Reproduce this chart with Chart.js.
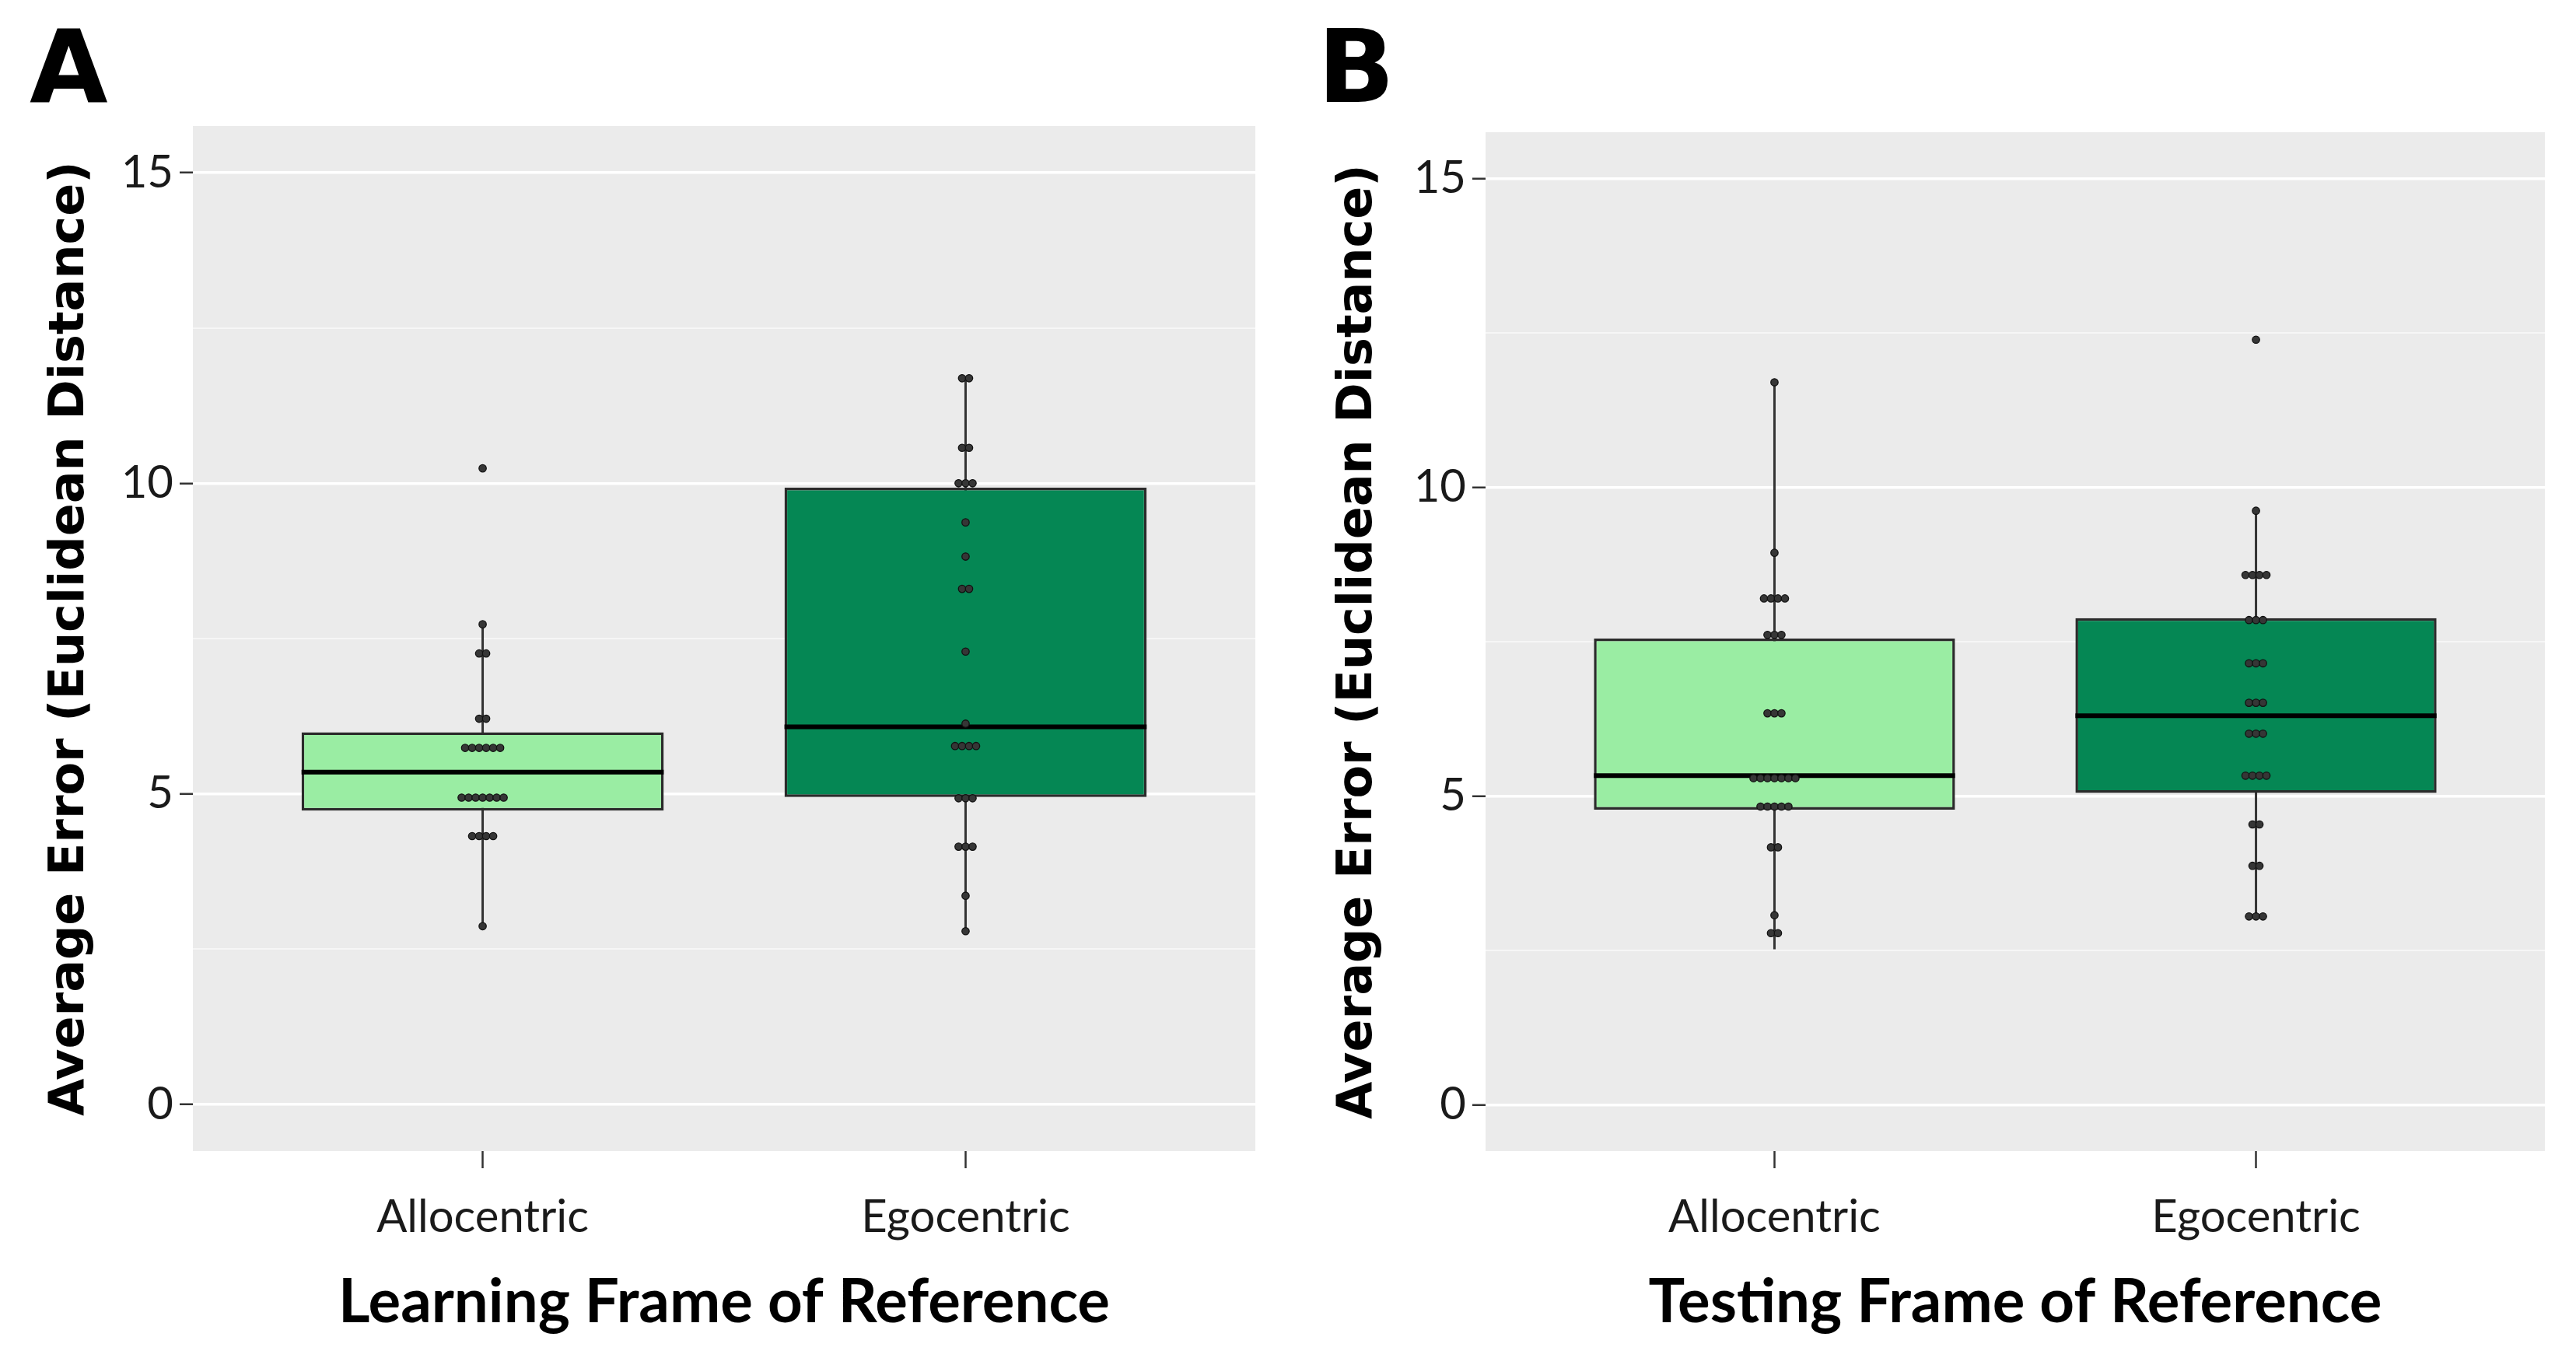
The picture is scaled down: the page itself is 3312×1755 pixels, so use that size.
<!DOCTYPE html>
<html>
<head>
<meta charset="utf-8">
<script src="https://cdn.jsdelivr.net/npm/chart.js@4.4.1/dist/chart.umd.min.js"></script>
<style>
  html, body { margin: 0; padding: 0; background: #fff; }
  #wrap { display: flex; width: 3312px; height: 1755px; }
  canvas { display: block; }
</style>
</head>
<body>
<div id="wrap">
  <canvas id="panelA" width="1656" height="1755"></canvas>
  <canvas id="panelB" width="1656" height="1755"></canvas>
</div>
<script>
// ---- data ----
const categories = ['Allocentric', 'Egocentric'];
const yMajorTicks = [0, 5, 10, 15];
const yMinorTicks = [2.5, 7.5, 12.5];

// panel A : learning frame of reference
const learnQ1 = [4.73, 4.95];
const learnMedian = [5.35, 6.08];
const learnQ3 = [5.99, 9.93];
const learnLow = [2.87, 2.79];
const learnHigh = [7.73, 11.69];
const learnAllo = [10.24, 7.73, 7.26, 7.26, 6.21, 6.21,
  5.74, 5.74, 5.74, 5.74, 5.74, 5.74,
  4.94, 4.94, 4.94, 4.94, 4.94, 4.94, 4.94,
  4.32, 4.32, 4.32, 4.32, 2.87];
const learnEgo = [11.69, 11.69, 10.57, 10.57, 10.0, 10.0, 10.0, 9.37, 8.82,
  8.30, 8.30, 7.29, 6.13, 5.77, 5.77, 5.77, 5.77,
  4.93, 4.93, 4.93, 4.15, 4.15, 4.15, 3.36, 2.79];

// panel B : testing frame of reference
const testQ1 = [4.78, 5.05];
const testMedian = [5.33, 6.30];
const testQ3 = [7.55, 7.88];
const testLow = [2.52, 2.99];
const testHigh = [11.70, 9.62];
const testAllo = [11.70, 8.94, 8.20, 8.20, 8.20, 8.20, 7.61, 7.61, 7.61,
  6.34, 6.34, 6.34, 5.29, 5.29, 5.29, 5.29, 5.29, 5.29, 5.29,
  4.83, 4.83, 4.83, 4.83, 4.83, 4.17, 4.17, 3.07, 2.78, 2.78];
const testEgo = [12.39, 9.62, 8.58, 8.58, 8.58, 8.58, 7.85, 7.85, 7.85,
  7.15, 7.15, 7.15, 6.51, 6.51, 6.51, 6.01, 6.01, 6.01,
  5.33, 5.33, 5.33, 5.33, 4.54, 4.54, 3.87, 3.87, 3.05, 3.05, 3.05];

// ---- styling ----
const FILLS = ['#9AEDA3', '#058754'];
const BOX_WIDTH = 0.75;
const DOT_STEP = 0.0145;   // horizontal spacing of stacked dots, in x units

const panelBg = {
  id: 'panelBg',
  beforeDraw(chart) {
    const { ctx, chartArea: a } = chart;
    ctx.save();
    ctx.fillStyle = '#EBEBEB';
    ctx.fillRect(a.left, a.top, a.right - a.left, a.bottom - a.top);
    ctx.restore();
  }
};

// spread equal values side by side, centred on the category
function stackDots(values, center) {
  const counts = {};
  values.forEach(v => { counts[v] = (counts[v] || 0) + 1; });
  const seen = {};
  return values.map(v => {
    const i = seen[v] = (seen[v] === undefined ? 0 : seen[v] + 1);
    return { x: center + (i - (counts[v] - 1) / 2) * DOT_STEP, y: v };
  });
}

function makePanel(id, letter, xTitle, q1, med, q3, lo, hi, dots, lay) {
  const datasets = [];
  categories.forEach((c, i) => {
    const cx = i + 1;
    datasets.push({
      type: 'line', order: 4,
      data: [{ x: cx, y: lo[i] }, { x: cx, y: hi[i] }],
      borderColor: '#333333', borderWidth: 3, pointRadius: 0
    });
    datasets.push({
      type: 'line', order: 2,
      data: [{ x: cx - BOX_WIDTH / 2, y: med[i] }, { x: cx + BOX_WIDTH / 2, y: med[i] }],
      borderColor: '#000000', borderWidth: 6, pointRadius: 0
    });
    datasets.push({
      type: 'scatter', order: 1,
      data: stackDots(dots[i], cx),
      pointRadius: 4.7, pointBackgroundColor: '#363636',
      pointBorderColor: '#111111', pointBorderWidth: 1.3
    });
  });
  datasets.push({
    type: 'bar', order: 3,
    data: categories.map((c, i) => ({ x: i + 1, y: [q1[i], q3[i]] })),
    backgroundColor: FILLS, borderColor: '#2b2b2b', borderWidth: 3.5,
    borderSkipped: false, barPercentage: BOX_WIDTH, categoryPercentage: 1
  });

  return new Chart(document.getElementById(id), {
    type: 'scatter',
    data: { datasets },
    plugins: [panelBg],
    options: {
      responsive: false,
      devicePixelRatio: 1,
      animation: false,
      events: [],
      layout: { padding: { left: lay.left, right: lay.right, top: 0, bottom: 0 } },
      plugins: {
        legend: { display: false },
        tooltip: { enabled: false },
        title: {
          display: true, text: letter, align: 'start', color: '#000',
          font: { family: 'DejaVu Sans', weight: 'bold', size: 130, lineHeight: 1 },
          padding: { top: 32, bottom: lay.gap }
        }
      },
      scales: {
        x: {
          type: 'linear', min: 0.4, max: 2.6, offset: false,
          afterFit: s => { s.height = lay.xh; },
          afterBuildTicks: s => { s.ticks = categories.map((c, i) => ({ value: i + 1 })); },
          grid: {
            offset: false, drawOnChartArea: false, drawTicks: true,
            tickLength: 22, tickColor: '#333', tickWidth: 2.5
          },
          border: { display: false },
          ticks: {
            autoSkip: false, maxRotation: 0, padding: 28, color: '#1a1a1a',
            font: { family: 'Lato', size: 58 },
            callback: v => categories[v - 1]
          },
          title: {
            display: true, text: xTitle, color: '#000',
            font: { family: 'Lato', weight: 'bold', size: 78, lineHeight: 1.2 },
            padding: { top: 0, bottom: 33 }
          }
        },
        y: {
          type: 'linear', min: -0.75, max: 15.75,
          afterFit: s => { s.width = lay.yw; },
          afterBuildTicks: s => {
            s.ticks = yMajorTicks.concat(yMinorTicks).sort((a, b) => a - b).map(v => ({ value: v }));
          },
          grid: {
            color: c => yMajorTicks.includes(c.tick.value) ? '#FFFFFF' : '#F6F6F6',
            lineWidth: c => yMajorTicks.includes(c.tick.value) ? 3.5 : 2,
            tickColor: c => yMajorTicks.includes(c.tick.value) ? '#333' : 'rgba(0,0,0,0)',
            tickLength: 17, tickWidth: 2.5
          },
          border: { display: false },
          ticks: {
            padding: 8, color: '#1a1a1a', font: { family: 'Lato', size: 58 },
            callback: v => yMajorTicks.includes(v) ? String(v) : ''
          },
          title: {
            display: true, text: 'Average Error (Euclidean Distance)', color: '#000',
            font: { family: 'DejaVu Sans', weight: 'bold', size: 62, lineHeight: 1.2 },
            padding: { top: 16, bottom: 0 }
          }
        }
      }
    }
  });
}

makePanel('panelA', 'A', 'Learning Frame of Reference',
  learnQ1, learnMedian, learnQ3, learnLow, learnHigh, [learnAllo, learnEgo],
  { left: 38, right: 42, gap: 0, yw: 210, xh: 275 });

makePanel('panelB', 'B', 'Testing Frame of Reference',
  testQ1, testMedian, testQ3, testLow, testHigh, [testAllo, testEgo],
  { left: 38, right: 40, gap: 8, yw: 216, xh: 275 });
</script>
</body>
</html>
